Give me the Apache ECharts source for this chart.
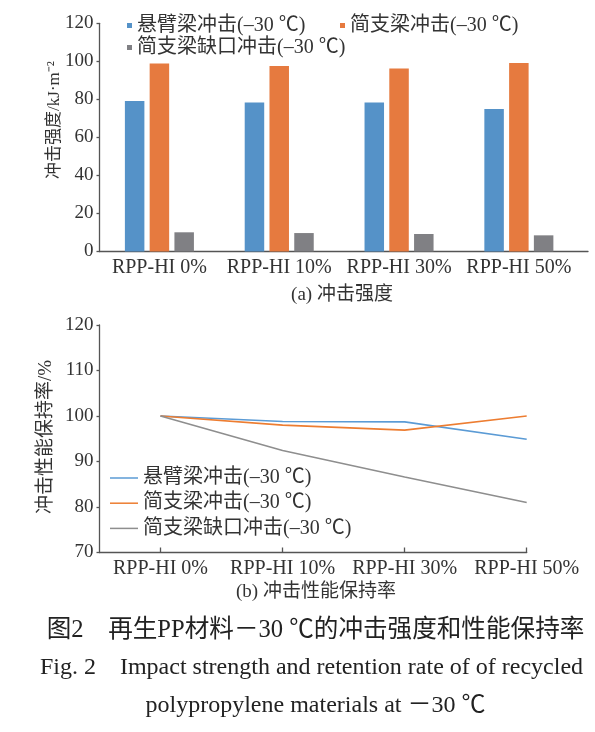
<!DOCTYPE html>
<html><head><meta charset="utf-8">
<script src="https://cdn.jsdelivr.net/npm/echarts@6/dist/echarts.min.js"></script>
<style>html,body{margin:0;padding:0;background:#fff}#c{width:595px;height:732px}</style>
</head><body><div id="c"></div>
<script>
const categories = ['RPP-HI 0%', 'RPP-HI 10%', 'RPP-HI 30%', 'RPP-HI 50%'];
const seriesNames = ['悬臂梁冲击(–30 ℃)', '简支梁冲击(–30 ℃)', '简支梁缺口冲击(–30 ℃)'];
// (a) impact strength, kJ/m2
const izodStrength = [79.1, 78.3, 78.3, 75.0];
const charpyStrength = [98.9, 97.5, 96.2, 99.1];
const notchedStrength = [10.1, 9.7, 9.2, 8.5];
// (b) retention rate, %
const izodRetention = [100, 98.8, 98.7, 94.9];
const charpyRetention = [100, 98.0, 96.9, 100.0];
const notchedRetention = [100, 92.4, 86.6, 81.0];
const strengthTicks = [0, 20, 40, 60, 80, 100, 120];
const retentionTicks = [70, 80, 90, 100, 110, 120];

const FONT = "'Liberation Serif','Noto Sans CJK SC',serif";
const TXT = '#333';
const AX = '#555';
const barColors = ['#5592c8', '#e67a3f', '#808084'];
const lineColors = ['#5b9bd5', '#ed7d31', '#8e8e8e'];
const idx = categories.map((c, i) => i);
const pts = arr => arr.map((v, i) => [i, v]);

const chart = echarts.init(document.getElementById('c'), null, {renderer: 'canvas'});

function xAx(gi, max, showTick) {
  return {
    type: 'value', gridIndex: gi, min: -0.5, max: max,
    axisLine: {show: true, onZero: false, lineStyle: {color: AX, width: 1.3}},
    axisTick: {show: showTick, inside: true, length: 5, customValues: idx, lineStyle: {color: AX, width: 1.3}},
    axisLabel: {customValues: idx, formatter: v => categories[Math.round(v)], fontFamily: FONT, fontSize: 20, color: TXT, margin: 6},
    splitLine: {show: false}
  };
}
function yAx(gi, ticks) {
  return {
    type: 'value', gridIndex: gi, min: ticks[0], max: ticks[ticks.length - 1], interval: ticks[1] - ticks[0],
    axisLine: {show: true, onZero: false, lineStyle: {color: AX, width: 1.3}},
    axisTick: {show: true, length: 3, lineStyle: {color: AX, width: 1.3}},
    axisLabel: {fontFamily: FONT, fontSize: 19, color: TXT, margin: 6},
    splitLine: {show: false}
  };
}
const legText = {fontFamily: FONT, fontSize: 20, color: TXT, lineHeight: 20};

const option = {
  animation: false,
  grid: [
    {left: 99.5, top: 23.3, width: 488.5, height: 228.2},
    {left: 99.5, top: 325, width: 427.2, height: 227.5}
  ],
  xAxis: [xAx(0, 3.577, false), xAx(1, 3, true)],
  yAxis: [yAx(0, strengthTicks), yAx(1, retentionTicks)],
  legend: [
    {data: [seriesNames[0]], left: 127, top: 15.5, icon: 'rect', itemWidth: 5, itemHeight: 5, itemGap: 0, textStyle: legText, padding: 0,
     selectedMode: false},
    {data: [seriesNames[1]], left: 340, top: 15.5, icon: 'rect', itemWidth: 5, itemHeight: 5, itemGap: 0, textStyle: legText, padding: 0,
     selectedMode: false},
    {data: [seriesNames[2]], left: 127, top: 37.5, icon: 'rect', itemWidth: 5, itemHeight: 5, itemGap: 0, textStyle: legText, padding: 0,
     selectedMode: false},
    {orient: 'vertical', left: 110, top: 468, icon: 'rect', itemWidth: 28, itemHeight: 1.5, itemGap: 5.2, textStyle: legText, padding: 0,
     selectedMode: false,
     data: seriesNames.map(n => ({name: n + ' ', icon: 'rect'}))}
  ],
  series: [
    {name: seriesNames[0], type: 'bar', xAxisIndex: 0, yAxisIndex: 0, data: pts(izodStrength), barWidth: 19.5, barGap: '27%', itemStyle: {color: barColors[0]}},
    {name: seriesNames[1], type: 'bar', xAxisIndex: 0, yAxisIndex: 0, data: pts(charpyStrength), barWidth: 19.5, barGap: '27%', itemStyle: {color: barColors[1]}},
    {name: seriesNames[2], type: 'bar', xAxisIndex: 0, yAxisIndex: 0, data: pts(notchedStrength), barWidth: 19.5, barGap: '27%', itemStyle: {color: barColors[2]}},
    {name: seriesNames[0] + ' ', type: 'line', xAxisIndex: 1, yAxisIndex: 1, data: pts(izodRetention), symbol: 'none', lineStyle: {color: lineColors[0], width: 1.6}, itemStyle: {color: lineColors[0]}},
    {name: seriesNames[1] + ' ', type: 'line', xAxisIndex: 1, yAxisIndex: 1, data: pts(charpyRetention), symbol: 'none', lineStyle: {color: lineColors[1], width: 1.6}, itemStyle: {color: lineColors[1]}},
    {name: seriesNames[2] + ' ', type: 'line', xAxisIndex: 1, yAxisIndex: 1, data: pts(notchedRetention), symbol: 'none', lineStyle: {color: lineColors[2], width: 1.6}, itemStyle: {color: lineColors[2]}}
  ],
  graphic: [
    {type: 'text', x: 55, y: 120, rotation: Math.PI / 2, style: {text: '冲击强度/kJ·m⁻²', x: 0, y: 0, align: 'center', verticalAlign: 'middle', fontFamily: FONT, fontSize: 17, fill: TXT}},
    {type: 'text', x: 46, y: 437, rotation: Math.PI / 2, style: {text: '冲击性能保持率/%', x: 0, y: 0, align: 'center', verticalAlign: 'middle', fontFamily: FONT, fontSize: 19, fill: TXT}},
    {type: 'text', x: 342, y: 295, style: {text: '(a) 冲击强度', x: 0, y: 0, align: 'center', verticalAlign: 'middle', fontFamily: FONT, fontSize: 19, fill: TXT}},
    {type: 'text', x: 316, y: 592, style: {text: '(b) 冲击性能保持率', x: 0, y: 0, align: 'center', verticalAlign: 'middle', fontFamily: FONT, fontSize: 19, fill: TXT}},
    {type: 'text', x: 315.5, y: 631, style: {text: '图2　再生PP材料－30 ℃的冲击强度和性能保持率', x: 0, y: 0, align: 'center', verticalAlign: 'middle', fontFamily: FONT, fontSize: 24.6, fill: '#222'}},
    {type: 'text', x: 311.5, y: 668, style: {text: 'Fig. 2　Impact strength and retention rate of of recycled', x: 0, y: 0, align: 'center', verticalAlign: 'middle', fontFamily: FONT, fontSize: 24, fill: '#222'}},
    {type: 'text', x: 315.5, y: 706, style: {text: 'polypropylene materials at －30 ℃', x: 0, y: 0, align: 'center', verticalAlign: 'middle', fontFamily: FONT, fontSize: 24, fill: '#222'}}
  ]
};
chart.setOption(option);
</script></body></html>
